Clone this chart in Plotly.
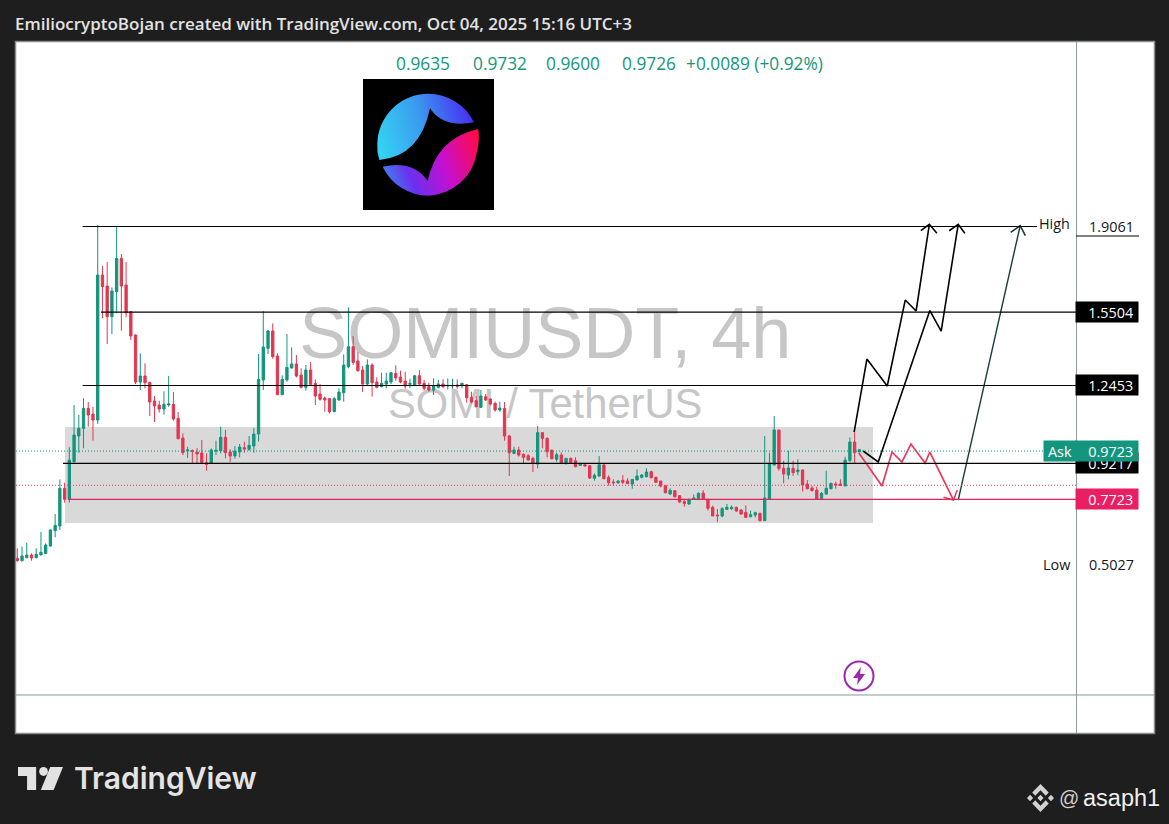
import base64
import plotly.graph_objects as go

# ---------- data ----------
open_ = [.5169,.5071,.5197,.5309,.5197,.5309,.5379,.5686,.6329,.6525,.8104,.7643,.9222,1.0298,1.0620,1.1458,1.1221,1.0969,1.7049,1.6587,
1.5302,1.6350,1.7747,1.6629,1.5511,1.4533,1.2562,1.2814,1.2548,1.1766,1.1598,1.1430,1.1598,1.1626,1.1039,1.0214,.9669,.9683,.9627,.9585,
.9180,.9152,.9669,.9683,1.0242,.9627,.9460,.9627,.9809,.9739,.9879,1.0382,1.2646,1.3974,1.4701,1.3653,1.2031,1.2646,1.3149,1.3317,
1.2855,1.2338,1.3065,1.2506,1.2059,1.1891,1.1863,1.1318,1.1807,1.2115,1.3205,1.4043,1.3442,1.3065,1.2478,1.3275,1.2562,1.2366,1.2478,1.2562,
1.2925,1.2772,1.2604,1.2464,1.2422,1.2827,1.2506,1.2366,1.2226,1.2338,1.2478,1.2394,1.2394,1.2436,1.2436,1.2450,1.1919,1.1779,1.1500,1.1947,
1.1849,1.1667,1.1388,1.1458,1.0298,.9571,.9711,.9529,.9473,.9361,.9124,1.0437,1.0200,.9697,.9319,.9501,.9152,.9361,.9263,.9068,
.9096,.9054,.8523,.8620,.9082,.8565,.8369,.8341,.8439,.8411,.8285,.8453,.8565,.8593,.8802,.8565,.8411,.8215,.7866,.8006,
.7796,.7544,.7447,.7642,.7656,.7908,.7642,.7307,.6985,.6943,.7223,.7251,.7307,.7195,.7097,.6915,.6985,.7055,.6748,.7656,
.9082,1.0549,.8942,.8662,.8942,.8802,.8872,.8285,.8117,.8033,.7670,.7866,.8089,.8285,.8285,.8201,.9263,1.0046,.9635]
high = [.5588,.5658,.5826,.5379,.5588,.6273,.5798,.6385,.7028,.8481,.8342,.9823,1.1598,1.1179,1.1878,1.1724,1.1528,1.9145,1.7426,1.7594,
1.6532,1.9110,1.7929,1.7594,1.5539,1.4561,1.3764,1.3345,1.2562,1.1975,1.1780,1.2171,1.2814,1.2143,1.1305,1.0410,.9851,.9739,.9795,1.0131,
.9572,.9781,1.0103,1.0690,1.0550,.9739,.9879,.9963,1.0061,1.0298,1.0634,1.3736,1.5539,1.4743,1.5022,1.3764,1.2842,1.4575,1.4015,1.3694,
1.3135,1.3275,1.3400,1.2674,1.2478,1.1947,1.1877,1.1947,1.2296,1.3722,1.5693,1.4491,1.3834,1.3233,1.3512,1.3345,1.2758,1.2953,1.2953,1.2953,
1.3261,1.3037,1.2995,1.2702,1.2855,1.3065,1.2646,1.2534,1.2716,1.2646,1.2674,1.2716,1.2702,1.2674,1.2534,1.2478,1.2157,1.1975,1.2226,1.2059,
1.1877,1.1737,1.1737,1.1723,1.0340,.9851,.9851,.9571,.9543,.9431,1.0717,1.0451,1.0242,.9739,.9599,.9613,.9375,.9403,.9403,.9180,
.9152,.9082,.8732,.9459,.9124,.8648,.8481,.8453,.8662,.8523,.8495,.8900,.8704,.8942,.8844,.8593,.8425,.8229,.8103,.8033,
.7824,.7670,.7670,.7852,.7936,.8033,.7670,.7377,.7237,.7307,.7447,.7391,.7335,.7237,.7391,.7167,.7125,.7083,1.0298,.9599,
1.1136,1.0549,.9263,.9683,.9263,.9319,.8900,.8453,.8201,.8173,.7950,.8844,.8341,.8383,.8481,.9431,1.0242,1.0451,.9732]
low = [.5027,.5030,.5169,.5071,.5169,.5309,.5351,.5658,.6050,.6357,.7503,.7503,.9180,.9599,.9781,1.0690,1.0103,1.0801,1.5232,1.4156,
1.4575,1.5441,1.4715,1.5274,1.4323,1.2479,1.2227,1.2297,1.1137,1.0885,1.1277,1.1193,1.1528,1.0941,1.0159,.9502,.9376,.9152,.9152,.9152,
.8845,.9124,.9502,.9572,.9362,.9208,.9348,.9404,.9599,.9683,.9599,1.0061,1.2227,1.3736,1.3541,1.2031,1.2031,1.2576,1.3135,1.2758,
1.2296,1.2199,1.2394,1.1598,1.1779,1.1318,1.1248,1.1318,1.1779,1.1737,1.3135,1.3275,1.2995,1.2143,1.2394,1.1947,1.2296,1.2338,1.2296,1.2478,
1.2618,1.2506,1.2282,1.2296,1.2394,1.2436,1.2199,1.2157,1.2017,1.2296,1.2296,1.2254,1.2282,1.2282,1.2296,1.1695,1.1667,1.1500,1.1472,1.1779,
1.1584,1.1318,1.1318,1.0102,.8621,.9543,.9431,.9152,.9264,.8788,.8942,.9780,.9403,.9319,.9221,.9124,.9096,.9152,.8984,.9054,
.9012,.8495,.8425,.8593,.8481,.8215,.8201,.8285,.8285,.8285,.8089,.8453,.8523,.8565,.8523,.8341,.8145,.7894,.7824,.7726,
.7488,.7335,.7405,.7642,.7642,.7614,.7167,.6943,.6692,.6887,.7195,.7195,.7111,.6999,.6859,.6887,.6887,.6720,.6748,.7642,
.9068,.8844,.8313,.8481,.8620,.8648,.7964,.8061,.7978,.7642,.7642,.7824,.8061,.8089,.8201,.8201,.9235,.9152,.9600]
close = [.5071,.5267,.5309,.5183,.5337,.5421,.5728,.6357,.6553,.8104,.7643,.9292,1.0340,1.0620,1.1458,1.1179,1.0969,1.7049,1.6560,1.5302,
1.6378,1.7747,1.6587,1.5469,1.4491,1.2562,1.2814,1.2534,1.1724,1.1556,1.1430,1.1626,1.1640,1.1011,1.0186,.9599,.9711,.9655,.9544,.9194,
.9110,.9711,.9697,1.0242,.9599,.9460,.9669,.9837,.9753,.9907,1.0382,1.2674,1.4030,1.4701,1.3625,1.2031,1.2674,1.3177,1.3317,1.2813,
1.2338,1.3065,1.2464,1.1975,1.1835,1.1807,1.1318,1.1863,1.2143,1.3275,1.4043,1.3386,1.3037,1.2478,1.3275,1.2534,1.2338,1.2506,1.2604,1.2953,
1.2730,1.2562,1.2394,1.2506,1.2827,1.2478,1.2296,1.2226,1.2394,1.2478,1.2366,1.2422,1.2422,1.2380,1.2506,1.1905,1.1723,1.1528,1.1975,1.1807,
1.1640,1.1388,1.1472,1.0298,.9599,.9711,.9501,.9403,.9292,.9152,1.0437,1.0200,.9641,.9347,.9515,.9152,.9361,.9193,.9012,.9124,
.9040,.8537,.8648,.9096,.8509,.8341,.8341,.8411,.8355,.8299,.8481,.8620,.8662,.8788,.8551,.8355,.8201,.7922,.8020,.7754,
.7530,.7474,.7642,.7698,.7894,.7642,.7265,.6943,.6957,.7251,.7307,.7307,.7153,.7027,.6887,.6999,.7083,.6748,.7698,.9152,
1.0549,.8942,.8704,.8956,.8760,.8872,.8243,.8089,.8006,.7642,.7894,.8103,.8313,.8243,.8229,.9291,1.0046,.9599,.9726]
candle_index = list(range(len(close)))

levels = [1.9061, 1.5504, 1.2453, 0.9217]
level_starts = [13.8, 17.7, 13.8, 9.65]
sr_level = 0.7723
sr_start = 10.7
ask_price = 0.9726
dotted_red_price = 0.8305
pane_line_price = -0.0411
box_x = [10.08, 180.9]
box_y = [0.6738, 1.0728]

path1_x = [176.9, 179.6, 183.9, 187.7, 190.0, 192.8]
path1_y = [1.0465, 1.3526, 1.2394, 1.6000, 1.5539, 1.9174]
path2_x = [178.8, 182.0, 192.9, 195.3, 198.9]
path2_y = [0.9669, 0.9208, 1.5560, 1.4700, 1.9174]
path3_x = [198.9, 212.0]
path3_y = [0.7614, 1.9116]
red_x = [177.9, 182.8, 184.9, 187.0, 188.9, 191.9, 192.9, 197.9]
red_y = [0.9585, 0.8202, 0.9627, 0.9208, 0.9963, 0.9166, 0.9627, 0.7614]
head1_x = [191.0, 192.8, 194.4]
head1_y = [1.8906, 1.9174, 1.8797]
head2_x = [197.0, 198.9, 200.3]
head2_y = [1.8906, 1.9174, 1.8797]
head3_x = [210.0, 212.0, 213.1]
head3_y = [1.8839, 1.9116, 1.8696]
head_red_x = [195.8, 197.9, 198.7]
head_red_y = [0.7728, 0.7614, 0.8034]

ohlc_texts = ["0.9635", "0.9732", "0.9600", "0.9726", "+0.0089 (+0.92%)"]
ohlc_px = [394, 471, 544, 620, 684]
title_text = "EmiliocryptoBojan created with TradingView.com, Oct 04, 2025 15:16 UTC+3"

# ---------- layout helpers ----------
L, R, T, B = 16, 1076, 42, 733
fx = lambda p: (p - L) / (R - L)
fy = lambda p: (B - p) / (B - T)
X_RANGE = [-0.275, 223.8]
Y_TRUE = [-0.19907, 2.6729]
Y_READ = [-0.2155, 2.682]
GREEN, RED = "#12957d", "#e23650"
SANS = "Open Sans"

def svg_uri(svg):
    return "data:image/svg+xml;base64," + base64.b64encode(svg.encode()).decode()

logo_svg = '''<svg xmlns="http://www.w3.org/2000/svg" viewBox="39 102 393 393">
<defs>
<linearGradient id="a" gradientUnits="userSpaceOnUse" x1="85" y1="280" x2="370" y2="200"><stop offset="0" stop-color="#35d0f2"/><stop offset=".45" stop-color="#3a9cf0"/><stop offset="1" stop-color="#4a28f0"/></linearGradient>
<linearGradient id="b" gradientUnits="userSpaceOnUse" x1="385" y1="290" x2="100" y2="400"><stop offset="0" stop-color="#ff0a4c"/><stop offset=".4" stop-color="#c410d2"/><stop offset=".75" stop-color="#6a30ee"/><stop offset="1" stop-color="#3f86ee"/></linearGradient>
</defs>
<rect x="39" y="102" width="393" height="393" fill="#000"/>
<path fill="url(#a)" d="M372 232A153 153 0 0 0 235 146A153 153 0 0 0 82 295Q80 320 88 345Q210 335 240 190Q280 250 372 232Z"/>
<path fill="url(#b)" d="M385 252Q390 290 380 325A153 153 0 0 1 235 452A153 153 0 0 1 98 365Q190 345 233 408Q260 280 385 252Z"/>
</svg>'''

tv_svg = '''<svg xmlns="http://www.w3.org/2000/svg" viewBox="54 82 134 67">
<path fill="#e2e2e2" d="M54 82H108V149H81V108H54Z"/><circle cx="130" cy="95" r="13" fill="#e2e2e2"/>
<path fill="#e2e2e2" d="M150 82H188L160 149H122Z"/></svg>'''

bnb_svg = '''<svg xmlns="http://www.w3.org/2000/svg" viewBox="0 0 24 24"><path fill="#d2d2d2" d="M16.624 13.92l2.718 2.716-7.353 7.353-7.353-7.352 2.717-2.716 4.636 4.66 4.635-4.66zm4.637-4.636L24 12l-2.715 2.716L18.568 12l2.693-2.716zm-9.272.001l2.716 2.692-2.717 2.717L9.272 12l2.717-2.715zm-9.273-.001L5.41 12l-2.692 2.692L0 12l2.716-2.716zM11.99.01l7.353 7.33-2.718 2.715-4.635-4.636-4.636 4.66-2.717-2.716L11.989.011z"/></svg>'''

bolt_svg = '''<svg xmlns="http://www.w3.org/2000/svg" viewBox="0 0 32 32"><circle cx="16" cy="16" r="14.5" fill="#fff" stroke="#9c27b0" stroke-width="2"/>
<path fill="#9c27b0" d="M18 7L10 18H15L14 25L22 14H17Z"/></svg>'''

def image(src, x0, y0, w, h):
    return dict(source=svg_uri(src), xref="paper", yref="paper", x=fx(x0), y=fy(y0),
                sizex=w / (R - L), sizey=h / (B - T), xanchor="left", yanchor="top",
                sizing="stretch", layer="above")

# ---------- figure ----------
fig = go.Figure()

fig.add_trace(go.Scatter(x=[111.6, 111.6], y=[1.4350, 1.1540], mode="text", xaxis="x", yaxis="y",
                         text=["SOMIUSDT, 4h", "SOMI / TetherUS"], hoverinfo="skip", showlegend=False,
                         textfont=dict(family="Liberation Sans", size=[72, 41.7], color="#c6c6c6")))

fig.add_trace(go.Candlestick(x=candle_index, open=open_, high=high, low=low, close=close,
                             xaxis="x", yaxis="y2", whiskerwidth=0, showlegend=False,
                             increasing=dict(line=dict(color=GREEN, width=1), fillcolor=GREEN),
                             decreasing=dict(line=dict(color=RED, width=1), fillcolor=RED)))

for px_, py_, col, wd in [(path1_x, path1_y, "#000000", 1.6), (path2_x, path2_y, "#000000", 1.6),
                          (path3_x, path3_y, "#1d3a38", 1.4), (red_x, red_y, "#e8385c", 1.7),
                          (head1_x, head1_y, "#000000", 1.6), (head2_x, head2_y, "#000000", 1.6),
                          (head3_x, head3_y, "#1d3a38", 1.6), (head_red_x, head_red_y, "#e8385c", 1.5)]:
    fig.add_trace(go.Scatter(x=px_, y=py_, mode="lines", xaxis="x", yaxis="y2", showlegend=False,
                             line=dict(color=col, width=wd), hoverinfo="skip"))

shapes = [
    dict(type="rect", xref="paper", yref="paper", x0=1, x1=fx(1155), y0=0, y1=1, fillcolor="#ffffff",
         line_width=0, layer="below"),
    dict(type="rect", xref="x", yref="y", x0=box_x[0], x1=box_x[1], y0=box_y[0], y1=box_y[1],
         fillcolor="#d9d9d9", line_width=0, layer="below"),
    dict(type="line", xref="paper", yref="y", x0=0, x1=1, y0=ask_price, y1=ask_price,
         line=dict(color=GREEN, width=1, dash="1px,2px"), layer="above"),
    dict(type="line", xref="paper", yref="y", x0=0, x1=1, y0=dotted_red_price, y1=dotted_red_price,
         line=dict(color="#e0405f", width=1, dash="1px,2px"), layer="above"),
    dict(type="line", xref="paper", yref="y", x0=0, x1=fx(1155), y0=pane_line_price, y1=pane_line_price,
         line=dict(color="#7f9c9a", width=1), layer="above"),
    dict(type="line", xref="paper", yref="paper", x0=fx(1076.5), x1=fx(1076.5), y0=0, y1=1,
         line=dict(color="#8f9a9a", width=1), layer="above"),
    dict(type="line", xref="paper", yref="paper", x0=1, x1=fx(1139), y0=fy(236), y1=fy(236),
         line=dict(color="#000000", width=1), layer="above"),
    dict(type="line", xref="x", yref="y", x0=sr_start, x1=X_RANGE[1], y0=sr_level, y1=sr_level,
         line=dict(color="#e0245e", width=1.2), layer="above"),
    dict(type="rect", xref="paper", yref="paper", x0=fx(15.5), x1=fx(1154.5), y0=fy(733.5), y1=fy(41.5),
         line=dict(color="#8c8c8c", width=1.5), layer="above"),
]
for lv, st in zip(levels, level_starts):
    x1 = X_RANGE[1] if lv != levels[0] else (1037 - 17.3) / 4.73
    shapes.append(dict(type="line", xref="x", yref="y", x0=st, x1=x1, y0=lv, y1=lv,
                       line=dict(color="#000000", width=1.2), layer="above"))

def label(text, price, bg, anchor="left", w=62):
    pad = "&nbsp;&nbsp;" if anchor == "left" else ""
    x = fx(1075.2) if anchor == "left" else fx(1076.5)
    return dict(text=pad + text, xref="paper", yref="y", x=x, y=price, xanchor=anchor, yanchor="middle",
                showarrow=False, width=w, height=20, bgcolor=bg, borderpad=0,
                align="center", font=dict(family=SANS, size=14.4, color="#ffffff", weight=500))

def plain(text, x, y, anchor, size=14.4, color="#131722", family=SANS, weight=None):
    return dict(text=text, xref="paper", yref="paper", x=fx(x), y=fy(y), xanchor=anchor, yanchor="middle",
                showarrow=False, font=dict(family=family, size=size, color=color, weight=weight))

annotations = [
    plain(title_text, 13, 23, "left", size=17, color="#e2e2e2", weight=600),
    plain("TradingView", 72, 778, "left", size=30, color="#e4e4e4", family="Inter", weight=600),
    plain("@", 1057, 798, "left", size=20, color="#cfcfcf", family="Liberation Sans"),
    plain("asaph1", 1081, 798, "left", size=23.5, color="#f0f0f0", family="Liberation Sans"),
    plain("High", 1072, 224, "right"),
    plain("Low", 1072, 564, "right"),
    plain("1.9061", 1111, 226, "center"),
    plain("0.5027", 1111, 564, "center"),
    label("1.5504", levels[1], "#000000"),
    label("1.2453", levels[2], "#000000"),
    label("0.9217", levels[3], "#000000"),
    label("0.7723", sr_level, "#e91e63"),
    label("0.9723", 0.9723, "#14967e"),
    label("Ask", 0.9723, "#14967e", anchor="right", w=32),
]
for t, p in zip(ohlc_texts, ohlc_px):
    annotations.append(plain(t, p, 63, "left", size=17.3, color="#14967e"))

fig.update_layout(
    width=1169, height=824, autosize=False,
    margin=dict(l=L, r=1169 - R, t=T, b=824 - B, pad=0),
    paper_bgcolor="#1e1e1e", plot_bgcolor="#ffffff", showlegend=False,
    xaxis=dict(range=X_RANGE, visible=False, rangeslider=dict(visible=False), fixedrange=True),
    yaxis=dict(range=Y_TRUE, visible=False, fixedrange=True),
    yaxis2=dict(range=Y_READ, visible=False, fixedrange=True, overlaying="y", anchor="x", side="right"),
    shapes=shapes, annotations=annotations,
    images=[image(logo_svg, 363, 79, 131, 131),
            image(tv_svg, 18, 767, 45, 23),
            image(bnb_svg, 1027, 784, 27, 28),
            image(bolt_svg, 843, 660, 32, 32)],
)

fig.write_html("out.html", config=dict(displayModeBar=False),
               post_script="document.body.style.margin='0';document.body.style.background='#1e1e1e';")
